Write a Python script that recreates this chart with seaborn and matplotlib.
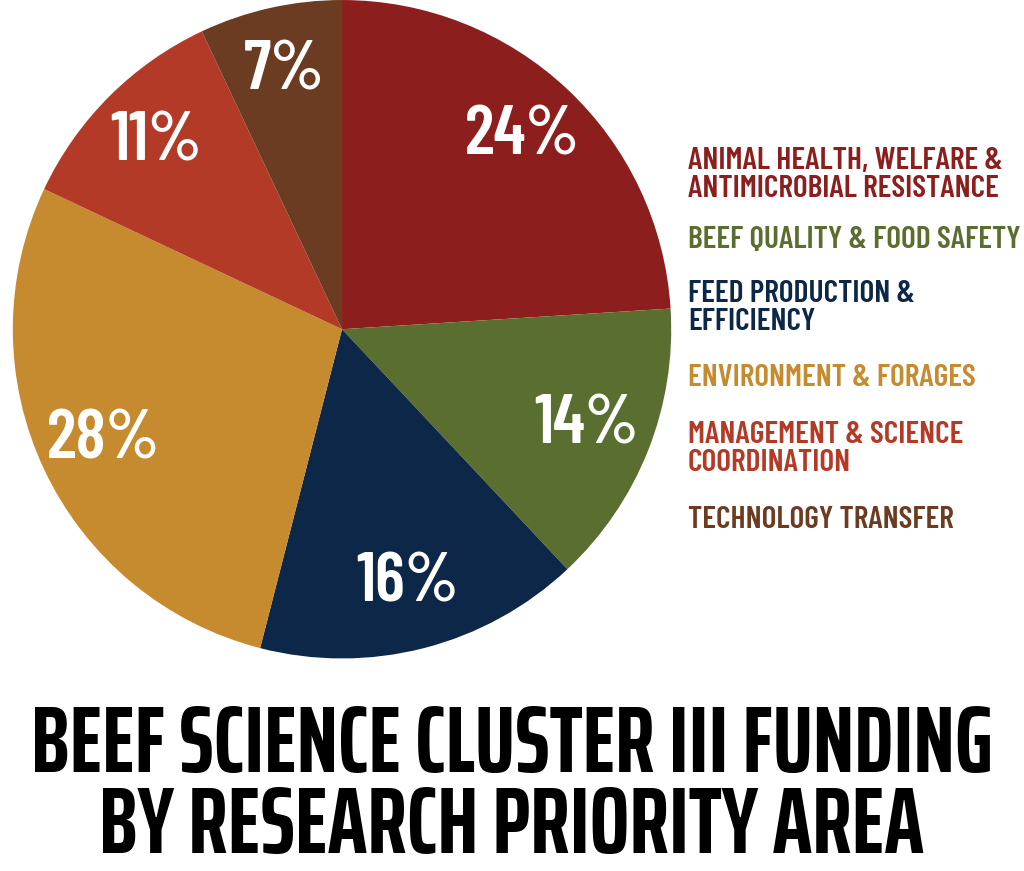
import matplotlib
matplotlib.use("Agg")
import matplotlib.pyplot as plt
import seaborn as sns

# -------------------- Data --------------------
areas = [
    "ANIMAL HEALTH, WELFARE &\nANTIMICROBIAL RESISTANCE",
    "BEEF QUALITY & FOOD SAFETY",
    "FEED PRODUCTION &\nEFFICIENCY",
    "ENVIRONMENT & FORAGES",
    "MANAGEMENT & SCIENCE\nCOORDINATION",
    "TECHNOLOGY TRANSFER",
]
shares = [24, 14, 16, 28, 11, 7]
colors = ["#8c1f1e", "#5a6f2f", "#0c2748", "#c68a2f", "#b33a27", "#6b3b22"]
title = "BEEF SCIENCE CLUSTER III FUNDING\nBY RESEARCH PRIORITY AREA"

# -------------------- Plot --------------------
sns.set_theme(style="white")
plt.rcParams["font.family"] = ["Barlow Condensed", "Liberation Sans Narrow", "DejaVu Sans"]

fig = plt.figure(figsize=(10.24, 8.71), dpi=100)
fig.patch.set_facecolor("white")

ax = fig.add_axes([0.0125, 0.244, 0.643, 0.756])
ax.pie(
    shares,
    colors=colors,
    startangle=90,
    counterclock=False,
    autopct=lambda p: f"{p:.0f}%",
    pctdistance=0.8,
    textprops=dict(color="white", fontsize=50, fontweight=600),
    wedgeprops=dict(linewidth=0),
)
ax.set_xlim(-1, 1)
ax.set_ylim(-1, 1)
ax.set_aspect("equal")
ax.axis("off")

# colored text legend
legend_y = [175, 240, 308, 378, 449, 520]
for label, col, y in zip(areas, colors, legend_y):
    fig.text(688 / 1024, 1 - y / 871, label, color=col, fontsize=22.7,
             fontweight=600, ha="left", va="center", linespacing=1.02)

# title lines placed by their baselines so nothing spills past the bottom edge
for line, base in zip(title.split("\n"), [772, 853]):
    fig.text(0.5, 1 - base / 871, line, ha="center", va="baseline", fontsize=68,
             fontweight=700, color="black",
             family=["Saira ExtraCondensed", "Barlow Condensed", "DejaVu Sans"])

fig.savefig("out.png", dpi=100, facecolor="white")
